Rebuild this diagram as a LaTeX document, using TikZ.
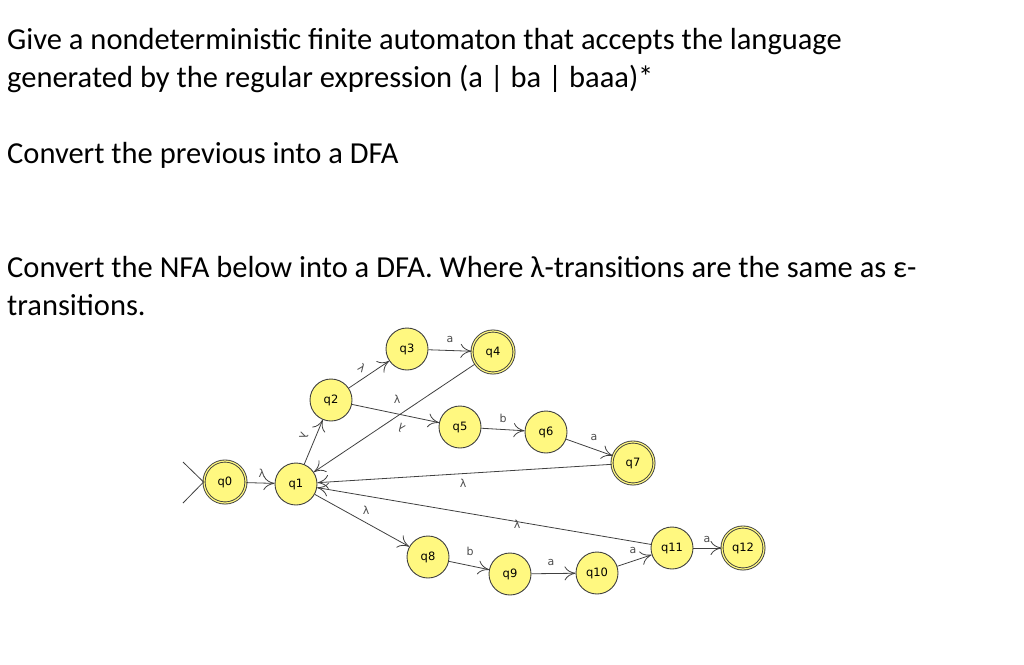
\documentclass[tikz,border=0pt]{standalone}
\usepackage{fontspec}
\setmainfont{Carlito}
\newfontfamily\lblfont{DejaVu Sans}
\usetikzlibrary{arrows.meta}
\begin{document}
\begin{tikzpicture}[x=1pt,y=-1pt,
  st/.style={circle,draw=black!75,fill=yellow!50,line width=0.9pt,minimum size=42pt,inner sep=0pt,font=\lblfont\fontsize{11.5}{11.5}\selectfont},
  acc/.style={st,double=yellow!50,double distance=1.2pt},
  tr/.style={draw=black!75,line width=0.8pt,-{To[length=11pt,width=14pt]}},
  lb/.style={font=\lblfont\fontsize{11}{11}\selectfont,text=black!70,inner sep=1pt},
  para/.style={anchor=base west,font=\fontsize{30.5}{36}\selectfont,inner sep=0pt}]
\useasboundingbox (0,0) rectangle (1024,664);
\node[para] (t1) at (7,49) {Give a nondeterministic finite automaton that accepts the language};
\node[para] (t2) at (7,87) {generated by the regular expression (a | ba | baaa)*};
\node[para] (t3) at (7,163) {Convert the previous into a DFA};
\node[para] (t4) at (7,277) {Convert the NFA below into a DFA. Where λ-transitions are the same as ε-};
\node[para] (t5) at (7,315) {transitions.};
\node[acc] (q0) at (225,482) {q0};
\node[st] (q1) at (296,484) {q1};
\node[st] (q2) at (331,400) {q2};
\node[st] (q3) at (407,349) {q3};
\node[acc] (q4) at (493,352) {q4};
\node[st] (q5) at (460,427) {q5};
\node[st] (q6) at (546,432) {q6};
\node[acc] (q7) at (633,463) {q7};
\node[st] (q8) at (428,557) {q8};
\node[st] (q9) at (510,574) {q9};
\node[st] (q10) at (597,573) {q10};
\node[st] (q11) at (672,548) {q11};
\node[acc] (q12) at (743,548) {q12};
\coordinate (i1) at (183,462);
\coordinate (i2) at (183,503);
\draw[draw=black!75,line width=0.8pt] (i1) -- (q0.west) -- (i2);
\draw[tr] (q0) -- (q1);
\draw[tr] (q1) -- (q2);
\draw[tr] (q2) -- (q3);
\draw[tr] (q3) -- (q4);
\draw[tr] (q2) -- (q5);
\draw[tr] (q4) -- (q1);
\draw[tr] (q5) -- (q6);
\draw[tr] (q6) -- (q7);
\draw[tr] (q7) -- (q1);
\draw[tr] (q1) -- (q8);
\draw[tr] (q8) -- (q9);
\draw[tr] (q9) -- (q10);
\draw[tr] (q10) -- (q11);
\draw[tr] (q11) -- (q1);
\draw[tr] (q11) -- (q12);
\node[lb] (l01) at (262,473) {λ};
\node[lb,rotate=-110] (l12) at (304,436) {λ};
\node[lb,rotate=-35] (l23) at (362,368) {λ};
\node[lb] (l34) at (450,339) {a};
\node[lb] (l25) at (397,399) {λ};
\node[lb,rotate=145] (l41) at (401,428) {λ};
\node[lb] (l56) at (503,418) {b};
\node[lb] (l67) at (594,437) {a};
\node[lb] (l71) at (463,483) {λ};
\node[lb] (l18) at (366,510) {λ};
\node[lb] (l89) at (470,551) {b};
\node[lb] (l910) at (551,562) {a};
\node[lb] (l1011) at (633,550) {a};
\node[lb] (l111) at (517,524) {λ};
\node[lb] (l1112) at (707,539) {a};
\end{tikzpicture}
\end{document}
